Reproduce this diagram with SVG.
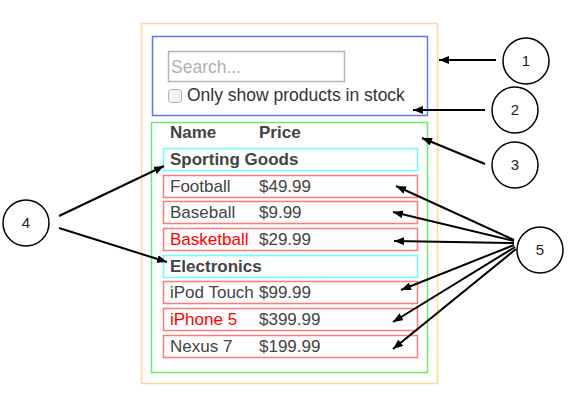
<svg xmlns="http://www.w3.org/2000/svg" width="572" height="402" viewBox="0 0 572 402">
<defs>
<marker id="ah" viewBox="0 0 10 8" refX="10" refY="4" markerWidth="10" markerHeight="8" markerUnits="userSpaceOnUse" orient="auto">
<path d="M0,0 L10,4 L0,8 Z" fill="#000"/>
</marker>
<style>
text{font-family:"Liberation Sans",Arial,Helvetica,sans-serif;}
.t{font-size:17px;fill:#444;}
.b{font-size:17px;font-weight:bold;fill:#444;}
.r{fill:#f00;}
.row{fill:none;stroke:#ff7b7b;stroke-width:1.5;}
.cat{fill:none;stroke:#66ffff;stroke-width:1.5;}
.c{fill:#fff;stroke:#000;stroke-width:1.5;}
.n{font-size:15px;fill:#222;text-anchor:middle;}
.a{stroke:#000;stroke-width:2;fill:none;marker-end:url(#ah);}
</style>
</defs>
<rect width="572" height="402" fill="#fff"/>
<g id="app"><rect x="141.5" y="23.5" width="296" height="360" fill="none" stroke="#ffd59a" stroke-width="1.5"/></g>
<g id="searchbar">
<rect x="152.5" y="36.5" width="275" height="79" fill="none" stroke="#5a78ff" stroke-width="1.5"/>
<rect x="168.5" y="51.5" width="176" height="30" fill="#fff" stroke="#b5b5b5" stroke-width="1.5"/>
<text x="171" y="73" style="font-size:17.5px;fill:#b0b0b0">Search...</text>
<rect x="168.5" y="89.5" width="13" height="13" rx="3" fill="#f4f4f4" stroke="#aaa"/>
<text x="187" y="101" class="t" style="fill:#333;font-size:17.5px">Only show products in stock</text>
</g>
<g id="table">
<rect x="151.5" y="122.5" width="276" height="250" fill="none" stroke="#6ee86e" stroke-width="1.5"/>
<text x="170" y="138" class="b">Name</text>
<text x="259" y="138" class="b">Price</text>
</g>
<g id="cat-sporting"><rect x="163.5" y="148.5" width="254" height="22" class="cat"/><text x="170" y="165" class="b">Sporting Goods</text></g>
<g id="row-football"><rect x="163.5" y="175.5" width="254" height="22" class="row"/><text x="170" y="192" class="t">Football</text><text x="259" y="192" class="t">$49.99</text></g>
<g id="row-baseball"><rect x="163.5" y="201.5" width="254" height="22" class="row"/><text x="170" y="218" class="t">Baseball</text><text x="259" y="218" class="t">$9.99</text></g>
<g id="row-basketball"><rect x="163.5" y="228.5" width="254" height="22" class="row"/><text x="170" y="245" class="t r">Basketball</text><text x="259" y="245" class="t">$29.99</text></g>
<g id="cat-electronics"><rect x="163.5" y="255.5" width="254" height="22" class="cat"/><text x="170" y="272" class="b">Electronics</text></g>
<g id="row-ipod"><rect x="163.5" y="281.5" width="254" height="22" class="row"/><text x="170" y="298" class="t">iPod Touch</text><text x="259" y="298" class="t">$99.99</text></g>
<g id="row-iphone"><rect x="163.5" y="308.5" width="254" height="22" class="row"/><text x="170" y="325" class="t r">iPhone 5</text><text x="259" y="325" class="t">$399.99</text></g>
<g id="row-nexus"><rect x="163.5" y="335.5" width="254" height="22" class="row"/><text x="170" y="352" class="t">Nexus 7</text><text x="259" y="352" class="t">$199.99</text></g>
<g id="callout-1"><circle cx="526" cy="61" r="23" class="c"/><text x="526" y="66" class="n">1</text></g>
<g id="callout-2"><circle cx="515" cy="110" r="23" class="c"/><text x="515" y="115" class="n">2</text></g>
<g id="callout-3"><circle cx="515" cy="165" r="23" class="c"/><text x="515" y="170" class="n">3</text></g>
<g id="callout-4"><circle cx="26" cy="223" r="23" class="c"/><text x="26" y="228" class="n">4</text></g>
<g id="callout-5"><circle cx="540" cy="250" r="23" class="c"/><text x="540" y="255" class="n">5</text></g>
<g id="connectors">
<line x1="496" y1="60" x2="439" y2="60" class="a"/>
<line x1="485" y1="110" x2="413" y2="110" class="a"/>
<line x1="485" y1="164" x2="422" y2="138" class="a"/>
<line x1="59" y1="216" x2="164" y2="166" class="a"/>
<line x1="59" y1="228" x2="167" y2="262" class="a"/>
<line x1="514" y1="240" x2="396" y2="186" class="a"/>
<line x1="514" y1="241" x2="393" y2="212" class="a"/>
<line x1="514" y1="243" x2="394" y2="241" class="a"/>
<line x1="514" y1="245" x2="401" y2="290" class="a"/>
<line x1="515" y1="247" x2="393" y2="322" class="a"/>
<line x1="516" y1="249" x2="393" y2="349" class="a"/>
</g>
</svg>
